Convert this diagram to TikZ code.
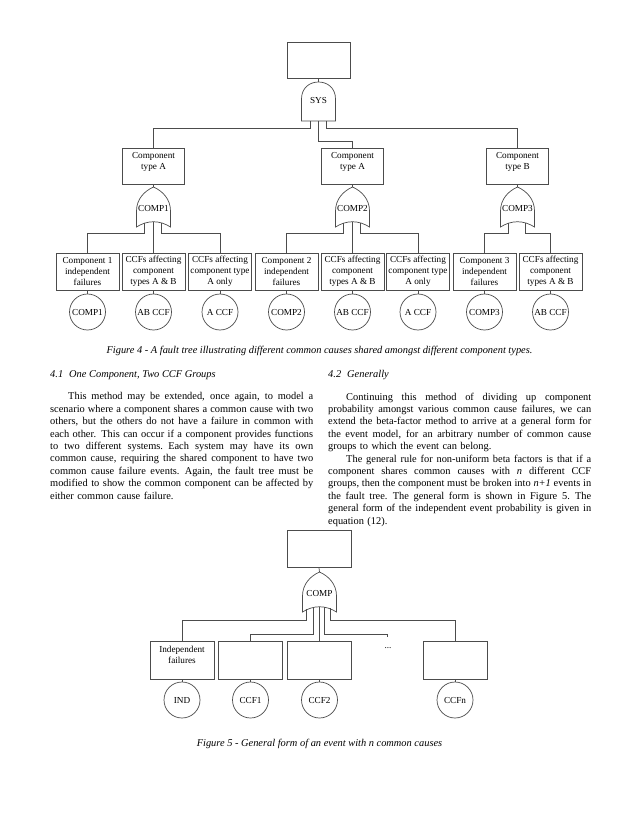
\documentclass[tikz,border=0pt]{standalone}
\usepackage{fontspec}
\setmainfont{Liberation Serif}
\newcommand\myjl[1]{\makebox[263pt][s]{\spaceskip=\fontdimen2\font plus 3\fontdimen2\font minus 0.35\fontdimen2\font #1}}
\newcommand\myjli[1]{\hspace*{18pt}\makebox[245pt][s]{\spaceskip=\fontdimen2\font plus 3\fontdimen2\font minus 0.35\fontdimen2\font #1}}
\begin{document}
\begin{tikzpicture}[x=1pt,y=-1pt,
  ln/.style={draw=black!70, line width=0.7pt},
  ev/.style={ln, rectangle, minimum width=63pt, minimum height=37pt, inner sep=0pt, align=center, font=\fontsize{9.2}{11}\selectfont},
  evtop/.style={ln, rectangle, minimum width=63pt, minimum height=36pt, inner sep=0pt},
  bas/.style={ln, circle, minimum size=36pt, inner sep=0pt, font=\fontsize{9.2}{11}\selectfont},
  gl/.style={inner sep=0pt, font=\fontsize{9.2}{11}\selectfont},
  body/.style={anchor=north west, inner sep=0pt, text width=263pt, align=left, font=\fontsize{10.4}{12.4}\selectfont},
  head/.style={anchor=west, inner sep=0pt, font=\fontsize{10.4}{12.4}\selectfont\itshape},
  figcap/.style={inner sep=0pt, font=\fontsize{10.4}{12.4}\selectfont\itshape},
  orgate/.pic={
    \draw[ln, fill=white] (-17,0) -- (-17,-16) .. controls (-17,-28) and (-9,-36) .. (0,-40)
      .. controls (9,-36) and (17,-28) .. (17,-16) -- (17,0) .. controls (6,-7) and (-6,-7) .. cycle;
    \coordinate (-top) at (0,-40);
    \coordinate (-ll) at (-13,-3);
    \coordinate (-l) at (-9,-4);
    \coordinate (-il) at (-6,-5);
    \coordinate (-c) at (0,-5);
    \coordinate (-ir) at (5,-5);
    \coordinate (-r) at (8,-4);
    \coordinate (-rr) at (11,-4);
    \node[gl] (-lab) at (0,-19) {\tikzpictext};
  },
  andgate/.pic={
    \draw[ln, fill=white] (-17,0) -- (-17,-22) .. controls (-17,-33) and (-9,-39) .. (0,-39)
      .. controls (9,-39) and (17,-33) .. (17,-22) -- (17,0) -- cycle;
    \coordinate (-top) at (0,-39);
    \coordinate (-l) at (-8,0);
    \coordinate (-c) at (0,0);
    \coordinate (-r) at (8,0);
    \node[gl] (-lab) at (0,-20) {\tikzpictext};
  }
]
\useasboundingbox[fill=white] (0,0) rectangle (638,826);

% ---------------- Figure 4 ----------------
\node[evtop] (top4) at (318.5,60) {};
\pic[pic text=SYS] (gs) at (318.5,121) {andgate};
\draw[ln] (top4.south) -- (gs-top);

\node[ev, minimum width=62pt, minimum height=36pt] (a1) at (153.5,166) {Component\\type A\\\mbox{}};
\node[ev, minimum width=62pt, minimum height=36pt] (a2) at (352.5,166) {Component\\type A\\\mbox{}};
\node[ev, minimum width=62pt, minimum height=36pt] (b1) at (517.5,166) {Component\\type B\\\mbox{}};

\draw[ln] (gs-l) -- ++(0,7) -| (a1.north);
\draw[ln] (gs-r) -- ++(0,7) -| (b1.north);
\draw[ln] (gs-c) -- ++(0,20) -| (a2.north);

\pic[pic text=COMP1] (g1) at (153.5,227) {orgate};
\pic[pic text=COMP2] (g2) at (352.5,227) {orgate};
\pic[pic text=COMP3] (g3) at (517.5,227) {orgate};
\draw[ln] (a1.south) -- (g1-top);
\draw[ln] (a2.south) -- (g2-top);
\draw[ln] (b1.south) -- (g3-top);

\node[ev] (c1) at (87.5,271.5) {Component 1\\independent\\failures};
\node[ev] (c2) at (153.5,271.5) {CCFs affecting\\component\\types A \& B};
\node[ev] (c3) at (220,271.5) {CCFs affecting\\component type\\A only};
\node[ev] (c4) at (286.5,271.5) {Component 2\\independent\\failures};
\node[ev] (c5) at (352.5,271.5) {CCFs affecting\\component\\types A \& B};
\node[ev] (c6) at (418,271.5) {CCFs affecting\\component type\\A only};
\node[ev] (c7) at (484.5,271.5) {Component 3\\independent\\failures};
\node[ev] (c8) at (550.5,271.5) {CCFs affecting\\component\\types A \& B};

\draw[ln] (g1-l) -- ++(0,10) -| (c1.north);
\draw[ln] (g1-c) -- (c2.north);
\draw[ln] (g1-r) -- ++(0,10) -| (c3.north);
\draw[ln] (g2-l) -- ++(0,10) -| (c4.north);
\draw[ln] (g2-c) -- (c5.north);
\draw[ln] (g2-r) -- ++(0,10) -| (c6.north);
\draw[ln] (g3-l) -- ++(0,10) -| (c7.north);
\draw[ln] (g3-r) -- ++(0,10) -| (c8.north);

\node[bas] (e1) at (87.5,312) {COMP1};
\node[bas] (e2) at (153.5,312) {AB CCF};
\node[bas] (e3) at (220,312) {A CCF};
\node[bas] (e4) at (286.5,312) {COMP2};
\node[bas] (e5) at (352.5,312) {AB CCF};
\node[bas] (e6) at (418,312) {A CCF};
\node[bas] (e7) at (484.5,312) {COMP3};
\node[bas] (e8) at (550.5,312) {AB CCF};
\foreach \i in {1,...,8} {\draw[ln] (c\i.south) -- (e\i.north);}

\node[figcap] (cap4) at (319.5,351) {Figure 4 - A fault tree illustrating different common causes shared amongst different component types.};

% ---------------- Text ----------------
\node[head] (h41) at (50,375) {4.1\hspace{6pt}One Component, Two CCF Groups};
\node[head] (h42) at (328,375) {4.2\hspace{6pt}Generally};

\node[body] (colL) at (50,392.5) {%
\myjli{This method may be extended, once again, to model a}\\
\myjl{scenario where a component shares a common cause with two}\\
\myjl{others, but the others do not have a failure in common with}\\
\myjl{each other. This can occur if a component provides functions}\\
\myjl{to two different systems. Each system may have its own}\\
\myjl{common cause, requiring the shared component to have two}\\
\myjl{common cause failure events. Again, the fault tree must be}\\
\myjl{modified to show the common component can be affected by}\\
either common cause failure.};

\node[body] (colR) at (328,392.5) {%
\myjli{Continuing this method of dividing up component}\\
\myjl{probability amongst various common cause failures, we can}\\
\myjl{extend the beta-factor method to arrive at a general form for}\\
\myjl{the event model, for an arbitrary number of common cause}\\
groups to which the event can belong.\\
\myjli{The general rule for non-uniform beta factors is that if a}\\
\myjl{component shares common causes with \textit{n} different CCF}\\
\myjl{groups, then the component must be broken into \textit{n+1} events in}\\
\myjl{the fault tree. The general form is shown in Figure 5. The}\\
\myjl{general form of the independent event probability is given in}\\
equation (12).};

% ---------------- Figure 5 ----------------
\node[evtop, minimum width=64pt, minimum height=37pt] (top5) at (319,549) {};
\pic[pic text=COMP] (g5) at (319.5,612) {orgate};
\draw[ln] (top5.south) -- (g5-top);

\node[ev, minimum width=64pt, minimum height=38pt] (f1) at (182,660) {Independent\\failures\\\mbox{}};
\node[ev, minimum width=64pt, minimum height=38pt] (f2) at (250.5,660) {};
\node[ev, minimum width=64pt, minimum height=38pt] (f3) at (319.5,660) {};
\node[ev, minimum width=64pt, minimum height=38pt] (f4) at (455,660) {};
\node[gl] (dots) at (388,648) {...};
\coordinate (dstub) at (387,637);

\draw[ln] (g5-ll) -- ++(0,11) -| (f1.north);
\draw[ln] (g5-il) -- ++(0,27) -| (f2.north);
\draw[ln] (g5-c) -- (f3.north);
\draw[ln] (g5-ir) -- ++(0,27) -| (dstub);
\draw[ln] (g5-rr) -- ++(0,12) -| (f4.north);

\node[bas] (b1e) at (182,700) {IND};
\node[bas] (b2e) at (250.5,700) {CCF1};
\node[bas] (b3e) at (319.5,700) {CCF2};
\node[bas] (b4e) at (455,700) {CCFn};
\draw[ln] (f1.south) -- (b1e.north);
\draw[ln] (f2.south) -- (b2e.north);
\draw[ln] (f3.south) -- (b3e.north);
\draw[ln] (f4.south) -- (b4e.north);

\node[figcap] (cap5) at (319.5,744) {Figure 5 - General form of an event with n common causes};
\end{tikzpicture}
\end{document}
